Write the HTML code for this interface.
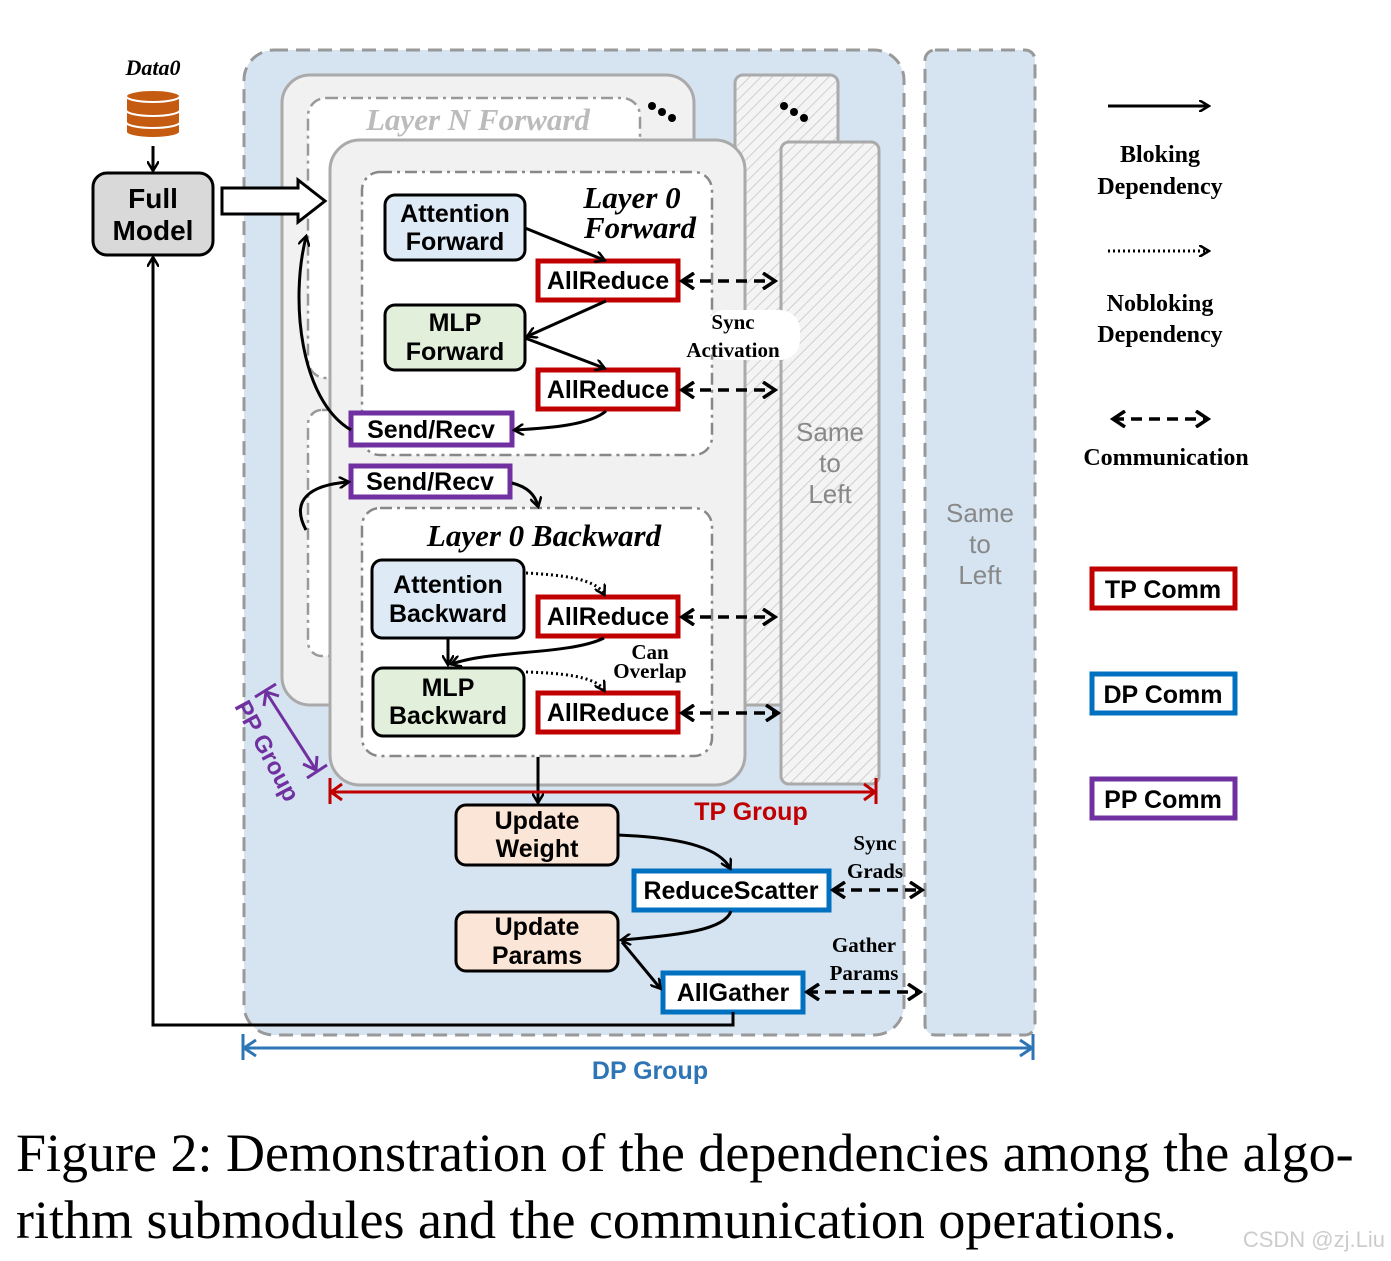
<!DOCTYPE html>
<html><head><meta charset="utf-8"><style>
body{margin:0;background:#fff;width:1391px;height:1261px;overflow:hidden}
svg{position:absolute;left:0;top:0}
.s{font-family:"Liberation Sans",sans-serif;font-weight:bold}
.r{font-family:"Liberation Serif",serif;font-weight:bold}
.cap{position:absolute;left:16px;top:1120px;font-family:"Liberation Serif",serif;font-size:54px;line-height:67px;color:#000;white-space:nowrap}
</style></head><body>
<svg width="1391" height="1261" viewBox="0 0 1391 1261">
<defs>
<pattern id="h" width="8" height="8" patternUnits="userSpaceOnUse" patternTransform="rotate(45)"><rect width="8" height="8" fill="#f4f4f4"/><line x1="0" y1="0" x2="0" y2="8" stroke="#cfcfcf" stroke-width="2"/></pattern>
<marker id="a" markerWidth="12" markerHeight="12" refX="9" refY="6" orient="auto" markerUnits="userSpaceOnUse"><path d="M0,0 L10,6 L0,12" fill="none" stroke="#000" stroke-width="2.5"/></marker>
<marker id="o" markerWidth="16" markerHeight="18" refX="13" refY="9" orient="auto-start-reverse" markerUnits="userSpaceOnUse"><path d="M1,1 L13,9 L1,17" fill="none" stroke="#000" stroke-width="3.5"/></marker>
</defs>
<rect x="244" y="50" width="660" height="985" rx="30" fill="#d6e4f2" stroke="#999" stroke-width="3" stroke-dasharray="14 8"/>
<rect x="925" y="50" width="110" height="985" rx="10" fill="#d6e4f2" stroke="#999" stroke-width="3" stroke-dasharray="14 8"/>
<rect x="735" y="75" width="103" height="630" rx="8" fill="url(#h)" stroke="#aaa" stroke-width="3"/>
<rect x="781" y="142" width="98" height="642" rx="8" fill="url(#h)" stroke="#aaa" stroke-width="3"/>
<rect x="282" y="75" width="412" height="630" rx="28" fill="#f1f1f1" stroke="#aaa" stroke-width="3"/>
<rect x="308" y="98" width="332" height="280" rx="18" fill="#fff" stroke="#999" stroke-width="2.5" stroke-dasharray="12 5 3 5"/>
<rect x="308" y="410" width="60" height="246" rx="14" fill="#fff" stroke="#999" stroke-width="2.5" stroke-dasharray="12 5 3 5"/>
<text x="366" y="130" class="r" font-style="italic" font-size="31" fill="#bbb">Layer N Forward</text>
<circle cx="652" cy="106" r="4"/><circle cx="662" cy="112" r="4"/><circle cx="672" cy="118" r="4"/>
<circle cx="784" cy="106" r="4"/><circle cx="794" cy="112" r="4"/><circle cx="804" cy="118" r="4"/>
<rect x="330" y="140" width="415" height="645" rx="30" fill="#f1f1f1" stroke="#aaa" stroke-width="3"/>
<rect x="362" y="172" width="350" height="283" rx="18" fill="#fff" stroke="#888" stroke-width="2.5" stroke-dasharray="12 5 3 5"/>
<rect x="362" y="508" width="350" height="248" rx="18" fill="#fff" stroke="#888" stroke-width="2.5" stroke-dasharray="12 5 3 5"/>
<text x="830" y="441" text-anchor="middle" font-family="Liberation Sans,sans-serif" font-size="26" fill="#888">Same</text>
<text x="830" y="472" text-anchor="middle" font-family="Liberation Sans,sans-serif" font-size="26" fill="#888">to</text>
<text x="830" y="503" text-anchor="middle" font-family="Liberation Sans,sans-serif" font-size="26" fill="#888">Left</text>
<text x="980" y="522" text-anchor="middle" font-family="Liberation Sans,sans-serif" font-size="26" fill="#888">Same</text>
<text x="980" y="553" text-anchor="middle" font-family="Liberation Sans,sans-serif" font-size="26" fill="#888">to</text>
<text x="980" y="584" text-anchor="middle" font-family="Liberation Sans,sans-serif" font-size="26" fill="#888">Left</text>
<text x="632" y="208" text-anchor="middle" class="r" font-style="italic" font-size="31">Layer 0</text>
<text x="640" y="238" text-anchor="middle" class="r" font-style="italic" font-size="31">Forward</text>
<text x="544" y="546" text-anchor="middle" class="r" font-style="italic" font-size="31">Layer 0 Backward</text>
<g stroke="#000" stroke-width="3">
<rect x="385" y="195" width="140" height="65" rx="10" fill="#deebf7"/>
<rect x="385" y="305" width="140" height="65" rx="10" fill="#e2efda"/>
<rect x="372" y="560" width="152" height="78" rx="10" fill="#deebf7"/>
<rect x="373" y="668" width="151" height="68" rx="10" fill="#e2efda"/>
<rect x="456" y="805" width="162" height="60" rx="10" fill="#fbe5d6"/>
<rect x="456" y="912" width="162" height="59" rx="10" fill="#fbe5d6"/>
<rect x="93" y="173" width="120" height="82" rx="14" fill="#d9d9d9"/>
</g>
<g fill="#fff" stroke-width="5">
<rect x="538" y="261" width="140" height="39" stroke="#c00000"/>
<rect x="538" y="370" width="140" height="39" stroke="#c00000"/>
<rect x="538" y="597" width="140" height="39" stroke="#c00000"/>
<rect x="538" y="693" width="140" height="39" stroke="#c00000"/>
<rect x="351" y="413" width="161" height="32" stroke="#7030a0"/>
<rect x="351" y="466" width="159" height="31" stroke="#7030a0"/>
<rect x="634" y="871" width="195" height="39" stroke="#0070c0"/>
<rect x="663" y="973" width="140" height="39" stroke="#0070c0"/>
<rect x="1092" y="569" width="143" height="39" stroke="#c00000"/>
<rect x="1092" y="674" width="143" height="39" stroke="#0070c0"/>
<rect x="1092" y="779" width="143" height="39" stroke="#7030a0"/>
</g>
<g class="s" font-size="25" text-anchor="middle">
<text x="455" y="222">Attention</text><text x="455" y="250">Forward</text>
<text x="455" y="331">MLP</text><text x="455" y="360">Forward</text>
<text x="448" y="593">Attention</text><text x="448" y="622">Backward</text>
<text x="448" y="696">MLP</text><text x="448" y="724">Backward</text>
<text x="537" y="829">Update</text><text x="537" y="857">Weight</text>
<text x="537" y="935">Update</text><text x="537" y="964">Params</text>
<text x="608" y="289">AllReduce</text><text x="608" y="398">AllReduce</text>
<text x="608" y="625">AllReduce</text><text x="608" y="721">AllReduce</text>
<text x="431" y="438">Send/Recv</text><text x="430" y="490">Send/Recv</text>
<text x="731" y="899">ReduceScatter</text><text x="733" y="1001">AllGather</text>
<text x="1163" y="598">TP Comm</text><text x="1163" y="703">DP Comm</text><text x="1163" y="808">PP Comm</text>
<text x="153" y="208" font-size="28">Full</text><text x="153" y="240" font-size="28">Model</text>
<text x="751" y="820" fill="#c00000">TP Group</text>
<text x="650" y="1079" fill="#2e75b6">DP Group</text>
</g>
<text x="234" y="706" class="s" font-size="24" fill="#7030a0" transform="rotate(62 234 706)">PP Group</text>
<text x="153" y="75" text-anchor="middle" class="r" font-style="italic" font-size="22">Data0</text>
<g fill="#c55a11" stroke="#fff" stroke-width="2">
<path d="M126,122 v10 a27,6 0 0 0 54,0 v-10 z"/><path d="M126,110 v12 a27,6 0 0 0 54,0 v-12 z"/><path d="M126,98 v12 a27,6 0 0 0 54,0 v-12 z"/>
<ellipse cx="153" cy="96" rx="27" ry="6"/>
</g>
<g fill="none" stroke="#000" stroke-width="3" marker-end="url(#a)">
<path d="M153,146 V170"/>
<path d="M525,228 L604,260"/>
<path d="M606,301 L528,336"/>
<path d="M525,338 L604,368"/>
<path d="M606,411 C590,425 550,428 515,430"/>
<path d="M351,430 C300,400 290,300 306,237"/>
<path d="M306,530 C290,500 310,485 348,482"/>
<path d="M512,483 C528,487 535,495 538,506"/>
<path d="M604,638 C570,655 490,650 452,664"/>
<path d="M448,638 V664"/>
<path d="M538,757 V802"/>
<path d="M618,835 C690,838 720,850 730,868"/>
<path d="M731,911 C725,930 680,935 622,940"/>
<path d="M622,942 L660,988"/>
<path d="M733,1012 V1025 H153 V258"/>
<path d="M1108,106 H1208"/>
</g>
<g fill="none" stroke="#000" stroke-width="3" stroke-dasharray="2 3" marker-end="url(#a)">
<path d="M526,573 C560,575 595,578 604,594"/>
<path d="M526,672 C560,673 595,676 604,690"/>
<path d="M1108,251 H1208"/>
</g>
<g fill="none" stroke="#000" stroke-width="3.5" stroke-dasharray="11 7" marker-start="url(#o)" marker-end="url(#o)">
<path d="M682,281 H775"/><path d="M682,390 H775"/>
<path d="M682,617 H775"/><path d="M682,713 H778"/>
<path d="M833,890 H922"/><path d="M807,992 H920"/>
<path d="M1113,419 H1208"/>
</g>
<path d="M222,188 H298 V180 L325,201 L298,222 V214 H222 Z" fill="#fff" stroke="#000" stroke-width="3"/>
<g stroke="#c00000" stroke-width="3" fill="none"><path d="M330,792 H876 M330,778 V804 M876,778 V804"/><path d="M342,784 L331,792 L342,800 M864,784 L875,792 L864,800"/></g>
<g stroke="#7030a0" stroke-width="3" fill="none"><path d="M266,692 L316,770 M255,697 L276,684 M307,778 L327,765"/><path d="M264,706 L266,692 L279,696 M303,764 L316,770 L317,756"/></g>
<g stroke="#2e75b6" stroke-width="3" fill="none"><path d="M243,1048 H1033 M243,1034 V1060 M1033,1034 V1060"/><path d="M256,1040 L244,1048 L256,1056 M1020,1040 L1032,1048 L1020,1056"/></g>
<rect x="705" y="310" width="95" height="50" rx="20" fill="#fff"/>
<g class="r" font-size="21" text-anchor="middle">
<text x="733" y="329">Sync</text><text x="733" y="357">Activation</text>
<text x="650" y="659">Can</text><text x="650" y="678">Overlap</text>
<text x="875" y="850">Sync</text><text x="875" y="878">Grads</text>
<text x="864" y="952">Gather</text><text x="864" y="980">Params</text>
<g font-size="24"><text x="1160" y="162">Bloking</text><text x="1160" y="194">Dependency</text>
<text x="1160" y="311">Nobloking</text><text x="1160" y="342">Dependency</text>
<text x="1166" y="465">Communication</text></g>
</g>
<text x="1385" y="1247" text-anchor="end" font-family="Liberation Sans,sans-serif" font-size="22" fill="#ccc">CSDN @zj.Liu</text>
</svg>
<div class="cap">Figure 2: Demonstration of the dependencies among the algo-<br>rithm submodules and the communication operations.</div>
</body></html>
